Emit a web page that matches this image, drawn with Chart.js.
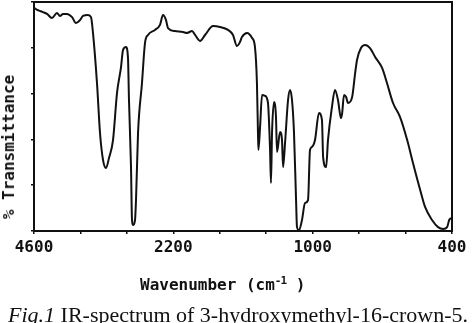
<!DOCTYPE html>
<html>
<head>
<meta charset="utf-8">
<script src="https://cdn.jsdelivr.net/npm/chart.js@4.4.1/dist/chart.umd.min.js"></script>
<style>
  html, body { margin: 0; padding: 0; background: #fff; }
  #wrap { position: relative; width: 474px; height: 323px; overflow: hidden; background: #fff; }
  canvas { position: absolute; left: 0; top: 0; }
  .lab { position: absolute; font-family: "DejaVu Sans Mono", monospace; font-weight: bold; font-size: 16px; line-height: 16px; color: #111; white-space: nowrap; }
  #ytitle { left: 9px; top: 147px; transform: translate(-50%, -50%) rotate(-90deg); }
  #xtitle { left: 140px; top: 277px; }
  #xtitle sup { font-size: 11px; line-height: 0; letter-spacing: -1px; }
  #caption { position: absolute; left: 8px; top: 304px; font-family: "Liberation Serif", "DejaVu Serif", serif; font-size: 22px; line-height: 22px; color: #111; white-space: nowrap; }
</style>
</head>
<body>
<div id="wrap">
  <canvas id="c" width="474" height="323"></canvas>
  <div id="ytitle" class="lab">% Transmittance</div>
  <div id="xtitle" class="lab">Wavenumber  (cm<sup>-1</sup> )</div>
  <div id="caption"><i>Fig.1</i> IR-spectrum of 3-hydroxymethyl-16-crown-5.</div>
</div>
<script>
// Tick labels of the (piecewise) wavenumber axis, placed at axis positions 0, 3, 6, 9
const tickLabels = ['4600', '2200', '1000', '400'];
const tickWavenumbers = [4600, 2200, 1000, 400];

// Spectrum: wavenumber (cm-1) and % transmittance
const wavenumbers = [4600,4540,4497,4445,4376,4290,4204,4152,4100,4032,3945,3877,3808,3756,3670,3618,3584,3515,3463,3411,3360,3308,3239,3170,3101,3067,3015,2981,2964,2929,2912,2895,2860,2843,2808,2740,2688,2636,2516,2430,2378,2326,2292,2186,2117,2082,2039,2013,1970,1927,1858,1798,1729,1686,1652,1626,1609,1565,1522,1497,1480,1471,1467,1453,1436,1410,1385,1367,1359,1350,1333,1316,1307,1281,1264,1255,1238,1212,1195,1178,1161,1143,1135,1118,1092,1066,1040,1023,1006,990,973,960,955,942,934,917,904,891,878,873,865,856,848,830,817,809,792,774,753,731,701,680,654,624,593,568,537,516,486,460,438,421,412,404];
const transmittance = [97.5,96.5,96.1,95.6,94.8,93.0,95.2,93.9,94.8,94.8,93.4,90.8,92.1,93.9,94.3,93.4,86.5,64.6,42.8,31.0,27.5,31.9,39.7,60.3,71.6,79.0,80.3,75.5,57.2,27.9,4.8,2.6,4.8,13.5,42.8,64.6,82.1,85.6,87.8,90.0,94.3,92.1,88.6,87.3,86.9,86.5,87.3,85.6,83.0,85.6,89.5,89.1,87.8,85.6,80.8,82.5,84.7,86.5,84.3,80.3,64.6,42.8,35.4,45.4,59.4,59.0,55.9,35.4,21.0,42.8,56.3,49.8,34.5,43.2,39.7,27.9,38.4,57.2,61.6,57.2,43.2,13.5,1.7,0.4,4.8,12.2,13.5,35.4,36.7,39.7,51.5,48.5,32.3,27.9,39.7,54.1,61.6,57.2,49.3,51.5,59.4,58.5,55.9,58.5,69.0,74.7,79.9,81.2,79.9,76.0,71.2,64.6,55.9,49.8,39.7,29.7,17.9,10.5,4.8,1.7,0.9,1.7,4.8,5.7];

// piecewise-linear mapping of wavenumber to axis position (each labelled segment = 3 tick steps)
function toAxis(w) {
  for (let i = 0; i < tickWavenumbers.length - 1; i++) {
    const a = tickWavenumbers[i], b = tickWavenumbers[i + 1];
    if (w <= a && w >= b) return i * 3 + 3 * (a - w) / (a - b);
  }
  return w > tickWavenumbers[0] ? 0 : 9;
}

const points = wavenumbers.map((w, i) => ({ x: toAxis(w), y: transmittance[i] }));

const frame = {
  id: 'frame',
  afterDatasetsDraw(chart) {
    const { ctx, chartArea: a } = chart;
    ctx.save();
    ctx.strokeStyle = '#111';
    ctx.lineWidth = 2;
    ctx.strokeRect(a.left, a.top, a.right - a.left, a.bottom - a.top);
    ctx.restore();
  }
};

const tickFont = { family: '"DejaVu Sans Mono", monospace', size: 16, weight: 'bold' };

new Chart(document.getElementById('c'), {
  type: 'line',
  data: {
    datasets: [{
      data: points,
      borderColor: '#111',
      borderWidth: 2,
      pointRadius: 0,
      fill: false,
      cubicInterpolationMode: 'monotone'
    }]
  },
  options: {
    responsive: false,
    animation: false,
    devicePixelRatio: 1,
    layout: { padding: { left: 0, top: 2, right: 22, bottom: 0 } },
    plugins: { legend: { display: false }, tooltip: { enabled: false } },
    scales: {
      x: {
        type: 'linear',
        min: 0, max: 9,
        border: { display: false },
        grid: { drawOnChartArea: false, drawTicks: true, tickLength: 3, color: '#111', lineWidth: 1.5 },
        ticks: {
          stepSize: 1, autoSkip: false, maxRotation: 0, padding: 4,
          color: '#111', font: tickFont,
          callback: (v) => (v % 3 === 0 ? tickLabels[v / 3] : '')
        },
        afterFit: (s) => { s.height = 92; }
      },
      y: {
        min: 0, max: 100,
        border: { display: false },
        grid: { drawOnChartArea: false, drawTicks: true, tickLength: 3, color: '#111', lineWidth: 1.5 },
        ticks: { stepSize: 20, display: false },
        afterFit: (s) => { s.width = 34; }
      }
    }
  },
  plugins: [frame]
});
</script>
</body>
</html>
